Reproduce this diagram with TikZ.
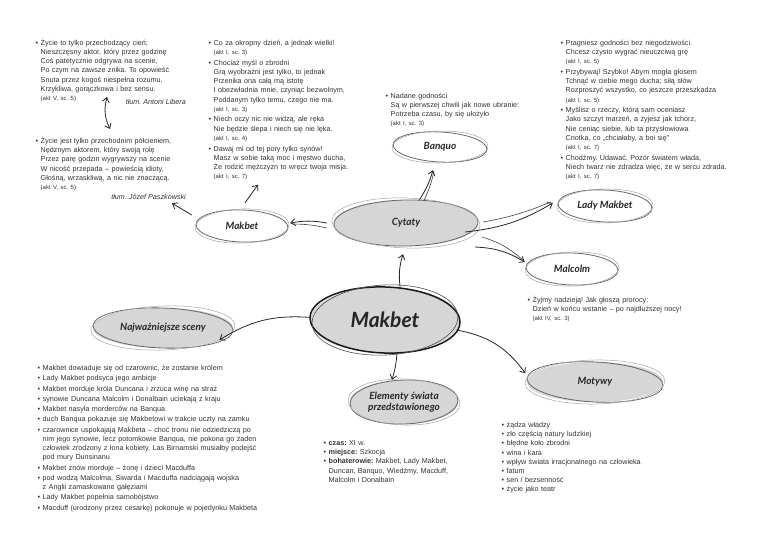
\documentclass[tikz,border=0pt]{standalone}
\usepackage{fontspec}
\setmainfont{Liberation Sans}
\newfontfamily\handfont{Lato}
\usepackage{enumitem}
\usetikzlibrary{arrows.meta,shapes.geometric}
\frenchspacing
\setlist[itemize]{label=\textbullet, nosep, leftmargin=6.5pt, labelsep=2.5pt, itemsep=1.5pt}
\def\ringaround[#1](#2)(#3:#4:#5){\draw[#1, rotate around={#5:(#2)}] (#2) ellipse ({#3pt} and {#4pt});}
\newcommand{\akt}[1]{{\fontsize{6}{9.2}\selectfont(#1)}}
\newcommand{\txtfont}{\fontsize{7.2}{9.2}\selectfont}
\newcommand{\hand}{\handfont\bfseries\itshape\fontsize{10}{11}\selectfont}
\tikzset{
	txt/.style={anchor=north west, inner sep=0pt, text=black!80, font=\txtfont, text width=#1},
	txt/.default=180pt,
	transl/.style={anchor=base east, inner sep=0pt, text=black!80, font=\txtfont\itshape},
	bubble/.style={ellipse, inner sep=0pt, text=black!85, font=\hand, align=center},
	greybub/.style={bubble, fill=black!16},
	ringdark/.style={line width=0.8pt, color=black!60},
	ringlight/.style={line width=0.5pt, color=black!35},
	arr/.style={line width=0.8pt, color=black!85, -{Straight Barb[length=4.5pt,width=7pt]}},
	arrboth/.style={line width=0.8pt, color=black!85, {Straight Barb[length=4.5pt,width=7pt]}-{Straight Barb[length=4.5pt,width=7pt]}},
	stroke/.style={line width=0.6pt, color=black!75},
}

\begin{document}
\begin{tikzpicture}[x=1pt, y=-1pt]
		%%%%% START %%%%%
		\path[use as bounding box, fill=white] (0,0) rectangle (768,543);

		%%%%% bubbles %%%%%
		\node[greybub, minimum width=150pt, minimum height=66pt, font=\handfont\bfseries\itshape\fontsize{21}{24}\selectfont] (big) at (385,320) {Makbet};
		\ringaround[line width=1.5pt, color=black!90](big)(75:33:-2);
		\ringaround[line width=0.6pt, color=black!70](big)(73:35:3);

		\node[greybub, minimum width=144pt, minimum height=46pt] (cyt) at (406,223) {Cytaty};
		\ringaround[ringdark](cyt)(72:23:1);
		\ringaround[ringlight](cyt)(74:25:-2);

		\node[bubble, minimum width=92pt, minimum height=32pt] (mks) at (242,226) {Makbet};
		\ringaround[ringdark](mks)(46:16:-2);
		\ringaround[ringlight](mks)(47:17:2);

		\node[bubble, minimum width=94pt, minimum height=30pt] (ban) at (440,147) {Banquo};
		\ringaround[ringdark](ban)(47:15:-3);
		\ringaround[ringlight](ban)(48:16:1);

		\node[bubble, minimum width=94pt, minimum height=32pt] (lady) at (605,206) {Lady Makbet};
		\ringaround[ringdark](lady)(47:16:-3);
		\ringaround[ringlight](lady)(48:17:1);

		\node[bubble, minimum width=92pt, minimum height=32pt] (mal) at (572,269) {Malcolm};
		\ringaround[ringdark](mal)(46:16:-2);
		\ringaround[ringlight](mal)(47:17:2);

		\node[greybub, minimum width=140pt, minimum height=40pt] (scn) at (163,328) {Najważniejsze sceny};
		\ringaround[ringdark](scn)(70:20:-2);
		\ringaround[ringlight](scn)(72:22:2);

		\node[greybub, minimum width=108pt, minimum height=44pt] (elm) at (404,402) {Elementy świata\\przedstawionego};
		\ringaround[ringdark](elm)(54:22:2);
		\ringaround[ringlight](elm)(56:23:-2);

		\node[greybub, minimum width=136pt, minimum height=40pt] (mot) at (595,382) {Motywy};
		\ringaround[ringdark](mot)(68:20:-3);
		\ringaround[ringlight](mot)(70:22:1);

		%%%%% quotes %%%%%
		\node[txt=175pt] (qlib) at (34,36) {\begin{itemize}
			\item Życie to tylko przechodzący cień;\\
			Nieszczęsny aktor, który przez godzinę\\
			Coś patetycznie odgrywa na scenie,\\
			Po czym na zawsze znika. To opowieść\\
			Snuta przez kogoś niespełna rozumu,\\
			Krzykliwa, gorączkowa i bez sensu.\\
			\akt{akt V, sc. 5}
		\end{itemize}};
		\node[transl] (tr1) at (186,104) {tłum. Antoni Libera};

		\node[txt=175pt] (qpas) at (34,134) {\begin{itemize}
			\item Życie jest tylko przechodnim półcieniem,\\
			Nędznym aktorem, który swoją rolę\\
			Przez parę godzin wygrywszy na scenie\\
			W nicość przepada – powieścią idioty,\\
			Głośną, wrzaskliwą, a nic nie znaczącą.\\
			\akt{akt V, sc. 5}
		\end{itemize}};
		\node[transl] (tr2) at (186,199) {tłum. Józef Paszkowski};

		\node[txt=185pt] (qmak) at (207,36) {\begin{itemize}
			\item Co za okropny dzień, a jednak wielki!\\
			\akt{akt I, sc. 3}
			\item Chociaż myśl o zbrodni\\
			Grą wyobraźni jest tylko, to jednak\\
			Przenika ona całą mą istotę\\
			I obezwładnia mnie, czyniąc bezwolnym,\\
			Poddanym tylko temu, czego nie ma.\\
			\akt{akt I, sc. 3}
			\item Niech oczy nic nie widzą, ale ręka\\
			Nie będzie ślepa i niech się nie lęka.\\
			\akt{akt I, sc. 4}
			\item Dawaj mi od tej pory tylko synów!\\
			Masz w sobie taką moc i męstwo ducha,\\
			Że rodzić mężczyzn to wręcz twoja misja.\\
			\akt{akt I, sc. 7}
		\end{itemize}};

		\node[txt=170pt] (qban) at (384,89) {\begin{itemize}
			\item Nadane godności\\
			Są w pierwszej chwili jak nowe ubranie:\\
			Potrzeba czasu, by się ułożyło\\
			\akt{akt I, sc. 3}
		\end{itemize}};

		\node[txt=205pt] (qlady) at (559,36) {\begin{itemize}
			\item Pragniesz godności bez niegodziwości.\\
			Chcesz czysto wygrać nieuczciwą grę\\
			\akt{akt I, sc. 5}
			\item Przybywaj! Szybko! Abym mogła głosem\\
			Tchnąć w ciebie mego ducha; siłą słów\\
			Rozproszyć wszystko, co jeszcze przeszkadza\\
			\akt{akt I, sc. 5}
			\item Myślisz o rzeczy, którą sam oceniasz\\
			Jako szczyt marzeń, a żyjesz jak tchórz,\\
			Nie ceniąc siebie, lub ta przysłowiowa\\
			Cnotka, co „chciałaby, a boi się”\\
			\akt{akt I, sc. 7}
			\item Chodźmy. Udawać. Pozór światem włada,\\
			Niech twarz nie zdradza więc, że w sercu zdrada.\\
			\akt{akt I, sc. 7}
		\end{itemize}};

		\node[txt=220pt] (qmal) at (526,293) {\begin{itemize}
			\item Żyjmy nadzieją! Jak głoszą prorocy:\\
			Dzień w końcu wstanie – po najdłuższej nocy!\\
			\akt{akt IV, sc. 3}
		\end{itemize}};

		%%%%% lists %%%%%
		\node[txt=265pt] (lscn) at (36,361) {\begin{itemize}[itemsep=1.1pt]
			\item Makbet dowiaduje się od czarownic, że zostanie królem
			\item Lady Makbet podsyca jego ambicje
			\item Makbet morduje króla Duncana i zrzuca winę na straż
			\item synowie Duncana Malcolm i Donalbain uciekają z kraju
			\item Makbet nasyła morderców na Banqua
			\item duch Banqua pokazuje się Makbetowi w trakcie uczty na zamku
			\item czarownice uspokajają Makbeta – choć tronu nie odziedziczą po\\
			nim jego synowie, lecz potomkowie Banqua, nie pokona go żaden\\
			człowiek zrodzony z łona kobiety, Las Birnamski musiałby podejść\\
			pod mury Dunsinanu
			\item Makbet znów morduje – żonę i dzieci Macduffa
			\item pod wodzą Malcolma, Siwarda i Macduffa nadciągają wojska\\
			z Anglii zamaskowane gałęziami
			\item Lady Makbet popełnia samobójstwo
			\item Macduff (urodzony przez cesarkę) pokonuje w pojedynku Makbeta
		\end{itemize}};

		\node[txt=170pt] (lelm) at (322,436) {\begin{itemize}[itemsep=0pt]
			\item \textbf{czas:} XI w.
			\item \textbf{miejsce:} Szkocja
			\item \textbf{bohaterowie:} Makbet, Lady Makbet,\\
			Duncan, Banquo, Wiedźmy, Macduff,\\
			Malcolm i Donalbain
		\end{itemize}};

		\node[txt=200pt] (lmot) at (500,418) {\begin{itemize}[itemsep=0pt]
			\item żądza władzy
			\item zło częścią natury ludzkiej
			\item błędne koło zbrodni
			\item wina i kara
			\item wpływ świata irracjonalnego na człowieka
			\item fatum
			\item sen / bezsenność
			\item życie jako teatr
		\end{itemize}};

		%%%%% arrows from the centre %%%%%
		\draw[arr] (big.65) to[bend left=12] ([xshift=-3pt,yshift=-8pt]cyt.south);
		\draw[arr] (big.178) to[bend right=18] (scn.-12);
		\draw[arr] ([xshift=12pt]big.south) to[bend left=6] ([xshift=-12pt]elm.north);
		\draw[arr] (big.-8) to[bend left=22] ([xshift=-8pt]mot.172);

		%%%%% arrows from Cytaty %%%%%
		\draw[arr] ([xshift=-7pt]cyt.west) to[bend right=10] ([xshift=2pt,yshift=3pt]mks.east);
		\draw[stroke] ([xshift=-7pt,yshift=-5pt]cyt.west) to[bend right=6] ([xshift=5pt,yshift=2pt]mks.east);
		\draw[arr] (cyt.60) to[bend right=8] ([xshift=-7pt,yshift=-8pt]ban.south);
		\draw[stroke] ([xshift=5pt]cyt.60) to[bend right=6] ([xshift=-6pt,yshift=-9pt]ban.south);
		\draw[arr] ([xshift=-13pt,yshift=-9pt]cyt.east) to[bend right=12] ([xshift=-5pt,yshift=3pt]lady.west);
		\draw[stroke] ([xshift=5pt,yshift=1pt]cyt.east) to[bend right=6] ([xshift=-7pt,yshift=4pt]lady.west);
		\draw[arr] ([xshift=-3pt,yshift=-24pt]cyt.east) to[bend left=14] ([xshift=-1pt,yshift=7pt]mal.west);
		\draw[stroke] ([xshift=4pt,yshift=-14pt]cyt.east) to[bend left=12] ([xshift=-3pt,yshift=9pt]mal.west);

		%%%%% arrows from Makbet %%%%%
		\draw[arr] ([xshift=-4pt,yshift=11pt]mks.west) -- ([xshift=-14pt,yshift=-4pt]tr2.south east);
		\draw[arr] ([xshift=3pt,yshift=7pt]mks.north) -- ([xshift=51pt,yshift=-4.5pt]qmak.south west);
		\draw[arrboth] ([xshift=73pt,yshift=5pt]qlib.south west) to[bend right=20] ([xshift=76pt,yshift=5pt]qpas.north west);

		%%%%% END %%%%%
\end{tikzpicture}
\end{document}
